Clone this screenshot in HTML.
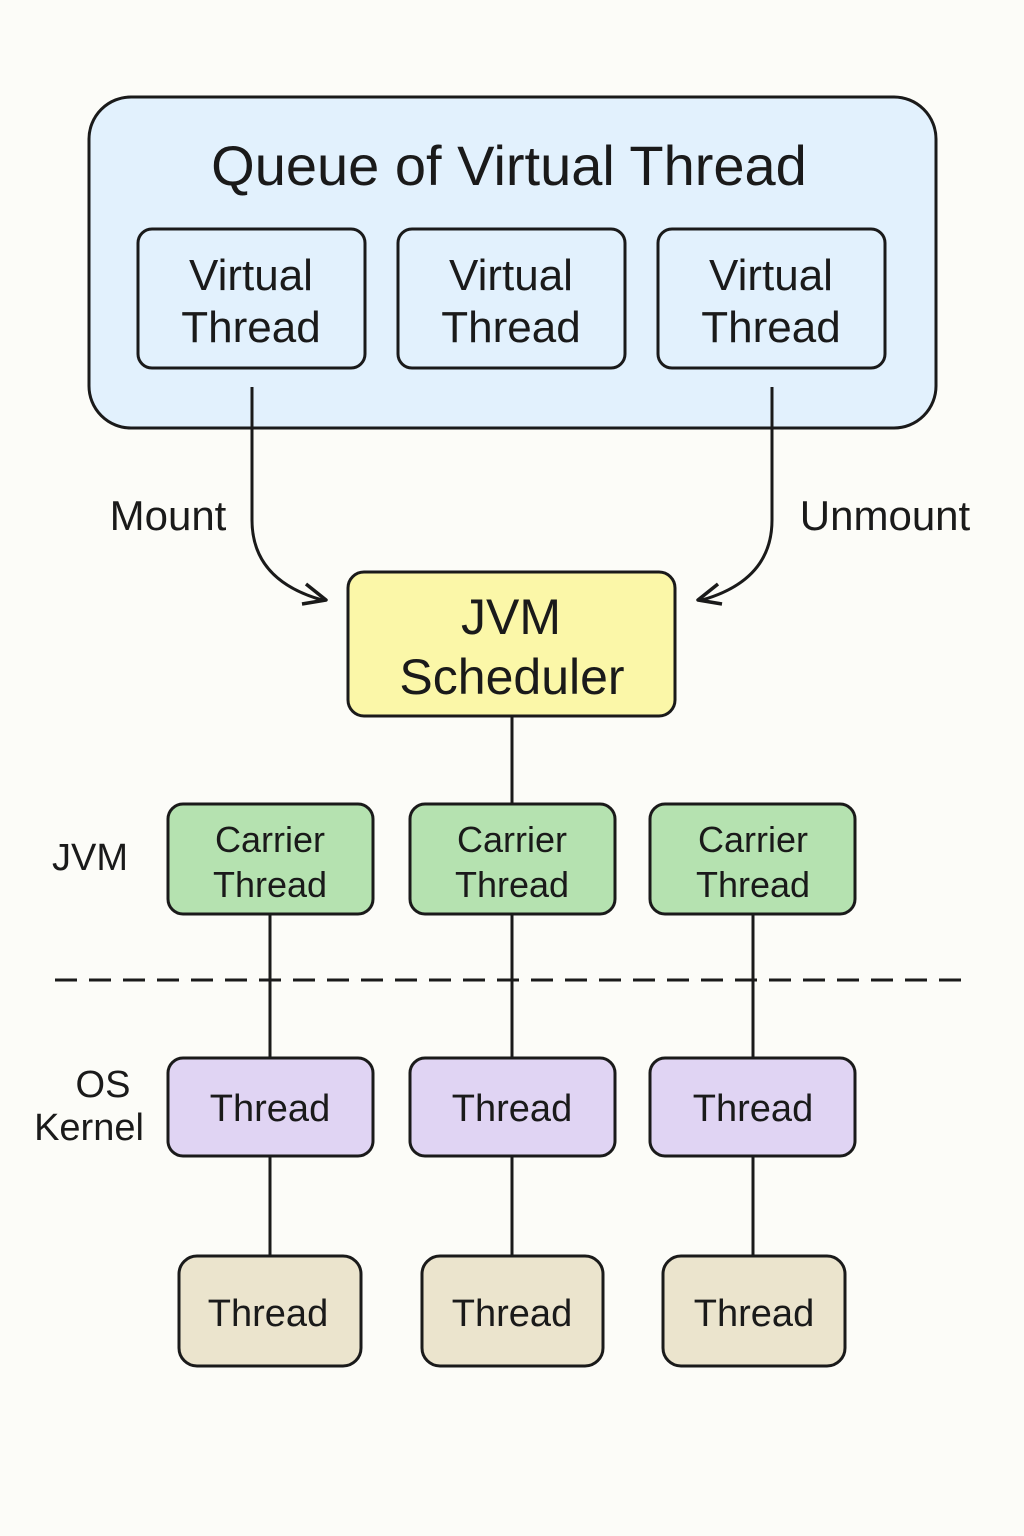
<!DOCTYPE html>
<html><head><meta charset="utf-8"><style>
html,body{margin:0;padding:0;background:#fcfcf8;}
svg{display:block}
text{font-family:"Liberation Sans",sans-serif;fill:#1a1a1a;text-anchor:middle}
</style></head><body>
<svg width="1024" height="1536" viewBox="0 0 1024 1536" xmlns="http://www.w3.org/2000/svg">
<rect width="1024" height="1536" fill="#fcfcf8"/>
<rect x="89" y="97" width="847" height="331" rx="42" fill="#e2f1fd" stroke="#1a1a1a" stroke-width="3"/>
<text x="509" y="185" font-size="56">Queue of Virtual Thread</text>
<g stroke="#1a1a1a" stroke-width="3" fill="#e2f1fd">
<rect x="138" y="229" width="227" height="139" rx="14"/>
<rect x="398" y="229" width="227" height="139" rx="14"/>
<rect x="658" y="229" width="227" height="139" rx="14"/>
</g>
<g font-size="44">
<text x="251" y="290">Virtual</text><text x="251" y="342">Thread</text>
<text x="511" y="290">Virtual</text><text x="511" y="342">Thread</text>
<text x="771" y="290">Virtual</text><text x="771" y="342">Thread</text>
</g>
<g fill="none" stroke="#1a1a1a" stroke-width="3">
<path d="M252 387 V520 Q252 580 322 600"/>
<path d="M772 387 V520 Q772 580 702 600"/>
<path d="M306 584 L326 600 L302 604" stroke-width="3.5" stroke-linejoin="round"/>
<path d="M718 584 L698 600 L722 604" stroke-width="3.5" stroke-linejoin="round"/>
<line x1="512" y1="716" x2="512" y2="804"/>
<line x1="270" y1="914" x2="270" y2="1058"/>
<line x1="512" y1="914" x2="512" y2="1058"/>
<line x1="753" y1="914" x2="753" y2="1058"/>
<line x1="270" y1="1156" x2="270" y2="1256"/>
<line x1="512" y1="1156" x2="512" y2="1256"/>
<line x1="753" y1="1156" x2="753" y2="1256"/>
<line x1="55" y1="980" x2="972" y2="980" stroke-dasharray="22 12"/>
</g>
<text x="168" y="530" font-size="42">Mount</text>
<text x="885" y="530" font-size="42">Unmount</text>
<rect x="348" y="572" width="327" height="144" rx="16" fill="#fbf7a8" stroke="#1a1a1a" stroke-width="3"/>
<text x="511" y="634" font-size="50">JVM</text>
<text x="512" y="694" font-size="50">Scheduler</text>
<g stroke="#1a1a1a" stroke-width="3" fill="#b5e2b0">
<rect x="168" y="804" width="205" height="110" rx="15"/>
<rect x="410" y="804" width="205" height="110" rx="15"/>
<rect x="650" y="804" width="205" height="110" rx="15"/>
</g>
<g font-size="36">
<text x="270" y="852">Carrier</text><text x="270" y="897">Thread</text>
<text x="512" y="852">Carrier</text><text x="512" y="897">Thread</text>
<text x="753" y="852">Carrier</text><text x="753" y="897">Thread</text>
</g>
<text x="90" y="870" font-size="38">JVM</text>
<text x="103" y="1097" font-size="38">OS</text>
<text x="89" y="1140" font-size="38">Kernel</text>
<g stroke="#1a1a1a" stroke-width="3" fill="#e0d4f3">
<rect x="168" y="1058" width="205" height="98" rx="15"/>
<rect x="410" y="1058" width="205" height="98" rx="15"/>
<rect x="650" y="1058" width="205" height="98" rx="15"/>
</g>
<g font-size="38">
<text x="270" y="1121">Thread</text>
<text x="512" y="1121">Thread</text>
<text x="753" y="1121">Thread</text>
</g>
<g stroke="#1a1a1a" stroke-width="3" fill="#ebe4cd">
<rect x="179" y="1256" width="182" height="110" rx="18"/>
<rect x="422" y="1256" width="181" height="110" rx="18"/>
<rect x="663" y="1256" width="182" height="110" rx="18"/>
</g>
<g font-size="38">
<text x="268" y="1326">Thread</text>
<text x="512" y="1326">Thread</text>
<text x="754" y="1326">Thread</text>
</g>
</svg>
</body></html>
